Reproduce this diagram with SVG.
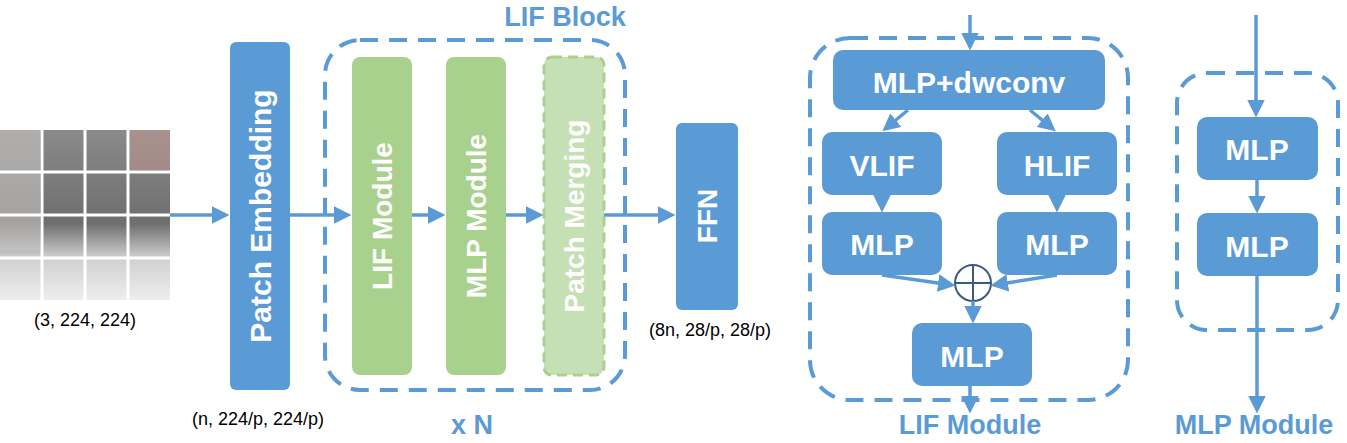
<svg xmlns="http://www.w3.org/2000/svg" width="1347" height="443" viewBox="0 0 1347 443">
<style>
.b{fill:#5b9bd5}
.g{fill:#a9d18e}
.t{font-family:"Liberation Sans",Arial,sans-serif;font-weight:bold;fill:#fff;text-anchor:middle}
.l{font-family:"Liberation Sans",Arial,sans-serif;font-weight:bold;fill:#5b9bd5;text-anchor:middle;font-size:27px}
.s{font-family:"Liberation Sans",Arial,sans-serif;fill:#000;text-anchor:middle;font-size:18px}
.d{fill:none;stroke:#5b9bd5;stroke-width:4;stroke-dasharray:18,11}
.a{stroke:#5b9bd5;stroke-width:3.5;fill:none;marker-end:url(#ah)}
</style>
<defs>
<marker id="ah" markerWidth="5" markerHeight="5" refX="4" refY="2.5" orient="auto"><path d="M0,0 L5,2.5 L0,5z" fill="#5b9bd5"/></marker>
<linearGradient id="cat" x1="0" y1="0" x2="0" y2="1"><stop offset="0" stop-color="#8a8a8a"/><stop offset="0.55" stop-color="#6e6e6e"/><stop offset="0.75" stop-color="#cfcfcf"/><stop offset="1" stop-color="#eeeeee"/></linearGradient>
</defs>
<g id="image">
<rect x="0" y="130" width="170" height="170" fill="url(#cat)"/>
<rect x="0" y="130" width="40" height="120" fill="#c9c6c4" opacity="0.6"/>
<rect x="130" y="130" width="40" height="40" fill="#c89a90" opacity="0.5"/>
<path d="M42,130V300M85,130V300M128,130V300M0,172H170M0,215H170M0,258H170" stroke="#fff" stroke-width="3"/>
</g>
<text class="s" x="85" y="326">(3, 224, 224)</text>
<g id="patch-embedding"><rect class="b" x="230" y="42" width="60" height="348" rx="6"/><text class="t" font-size="30" transform="translate(271,216) rotate(-90)">Patch Embedding</text></g>
<text class="s" x="258" y="425">(n, 224/p, 224/p)</text>
<g id="lif-block"><rect class="d" x="325" y="40" width="300" height="350" rx="35"/><text class="l" x="565" y="26">LIF Block</text><text class="l" x="472" y="434">x N</text></g>
<g id="lif-module-g"><rect class="g" x="352" y="57" width="60" height="318" rx="8"/><text class="t" font-size="28" transform="translate(392,216) rotate(-90)">LIF Module</text></g>
<g id="mlp-module-g"><rect class="g" x="446" y="57" width="60" height="318" rx="8"/><text class="t" font-size="28" transform="translate(486,216) rotate(-90)">MLP Module</text></g>
<g id="patch-merging"><rect x="544" y="57" width="60" height="318" rx="8" fill="#c5e0b4" stroke="#a9d18e" stroke-width="3" stroke-dasharray="10,6"/><text class="t" font-size="28" transform="translate(584,216) rotate(-90)">Patch Merging</text></g>
<g id="ffn"><rect class="b" x="676" y="123" width="62" height="187" rx="6"/><text class="t" font-size="28" transform="translate(717,216) rotate(-90)">FFN</text></g>
<text class="s" x="710" y="336">(8n, 28/p, 28/p)</text>
<g id="lif-module">
<rect class="d" x="810" y="38" width="318" height="362" rx="40"/>
<g id="mlpdw"><rect class="b" x="833" y="50" width="272" height="60" rx="10"/><text class="t" x="969" y="93" font-size="30">MLP+dwconv</text></g>
<g id="vlif"><rect class="b" x="822" y="132" width="120" height="63" rx="10"/><text class="t" x="882" y="176" font-size="30">VLIF</text></g>
<g id="hlif"><rect class="b" x="997" y="132" width="120" height="63" rx="10"/><text class="t" x="1057" y="176" font-size="30">HLIF</text></g>
<g id="mlp1"><rect class="b" x="822" y="212" width="120" height="63" rx="10"/><text class="t" x="882" y="255" font-size="30">MLP</text></g>
<g id="mlp2"><rect class="b" x="997" y="212" width="120" height="63" rx="10"/><text class="t" x="1057" y="255" font-size="30">MLP</text></g>
<g id="sum"><circle cx="973" cy="283" r="18" fill="none" stroke="#3d5a80" stroke-width="2"/><path d="M955,283H991M973,265V301" stroke="#3d5a80" stroke-width="2"/></g>
<g id="mlp3"><rect class="b" x="912" y="323" width="120" height="63" rx="10"/><text class="t" x="972" y="367" font-size="30">MLP</text></g>
</g>
<text class="l" x="970" y="434">LIF Module</text>
<g id="mlp-module">
<rect class="d" x="1177" y="73" width="161" height="257" rx="30"/>
<g id="mlp4"><rect class="b" x="1197" y="117" width="121" height="63" rx="10"/><text class="t" x="1257" y="160" font-size="30">MLP</text></g>
<g id="mlp5"><rect class="b" x="1197" y="213" width="121" height="63" rx="10"/><text class="t" x="1257" y="257" font-size="30">MLP</text></g>
</g>
<text class="l" x="1254" y="434">MLP Module</text>
<g id="connectors">
<path class="a" d="M170,215H226"/>
<path class="a" d="M290,215H348"/>
<path class="a" d="M412,215H442"/>
<path class="a" d="M506,215H540"/>
<path class="a" d="M604,215H672"/>
<path class="a" d="M970,15V47"/>
<path class="a" d="M908,110L885,129"/>
<path class="a" d="M1030,110L1053,129"/>
<path class="a" d="M882,195V209"/>
<path class="a" d="M1057,195V209"/>
<path class="a" d="M882,275L952,285"/>
<path class="a" d="M1057,275L994,285"/>
<path class="a" d="M973,301V320"/>
<path class="a" d="M970,386V410"/>
<path class="a" d="M1256,15V114"/>
<path class="a" d="M1257,180V210"/>
<path class="a" d="M1257,276V410"/>
</g>
</svg>
